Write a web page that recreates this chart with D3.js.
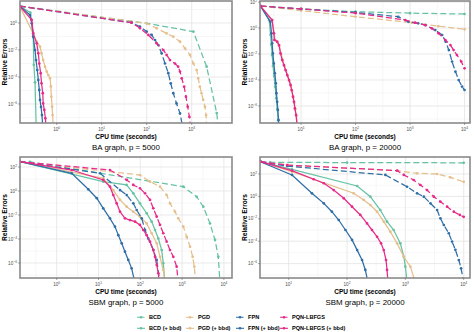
<!DOCTYPE html>
<html>
<head>
<script src="https://d3js.org/d3.v7.min.js"></script>
<style>
  body { margin: 0; background: #fff; }
  text { font-family: "Liberation Sans", Arial, sans-serif; }
</style>
</head>
<body>
<svg id="chart" width="474" height="332"></svg>
<script>

const methods = ["BCD", "PGD", "FPN", "PQN-LBFGS"];
const colors = ["#66c2a5", "#e5bf8c", "#2f6ea6", "#e7298a"];

// [CPU time (s), relative error]; plain name = without bbd (dashed), _bbd = with bbd (solid)

// BA graph, p = 5000
const ba5k_bcd = [[0.15,18],[100,0.95],[1090,0.23],[2150,5.8e-4],[3600,2.1e-7],[3900,2e-8]];
const ba5k_bcd_bbd = [[0.15,18],[0.26,5.8],[0.30,0.18],[0.31,8e-4],[0.33,4e-5],[0.35,2e-8]];
const ba5k_pgd = [[0.15,18],[100,0.95],[166,0.41],[277,0.17],[390,0.097],[550,0.041],[710,0.013],[915,4.3e-3],[1090,1e-3],[1290,3.3e-4],[1400,8e-5],[1520,1.9e-5],[1660,6.1e-6],[1800,2e-6],[1970,6.3e-7],[2090,1.5e-7],[2150,2e-8]];
const ba5k_pgd_bbd = [[0.15,18],[0.30,0.17],[0.36,0.041],[0.425,0.018],[0.46,5.7e-3],[0.50,1.8e-3],[0.55,5.8e-4],[0.60,2.5e-4],[0.65,1.4e-4],[0.71,8e-5],[0.74,2e-5],[0.76,3.5e-6],[0.79,6.3e-7],[0.81,1.5e-7],[0.84,2e-8]];
const ba5k_fpn = [[0.15,18],[46,1.05],[71,0.53],[100,0.23],[129,0.13],[153,0.055],[181,0.023],[215,5.7e-3],[255,1e-3],[302,1.9e-4],[342,3.4e-5],[390,6.3e-6],[460,1.1e-6],[550,2e-7],[630,2e-8]];
const ba5k_fpn_bbd = [[0.15,18],[0.255,3.9],[0.278,0.95],[0.30,0.097],[0.33,0.01],[0.347,1.8e-3],[0.37,3.3e-4],[0.39,6e-5],[0.41,1.1e-5],[0.425,2e-6],[0.448,6e-7],[0.47,1.5e-7],[0.49,2e-8]];
const ba5k_pqn = [[0.15,18],[46,1.05],[71,0.41],[109,0.13],[166,0.031],[234,0.01],[277,4.3e-3],[330,1.8e-3],[425,1e-3],[500,5.8e-4],[550,2.5e-4],[600,8e-5],[680,1.9e-5],[745,3.5e-6],[815,6.3e-7],[890,1.1e-7],[950,2e-8]];
const ba5k_pqn_bbd = [[0.15,18],[0.278,1.7],[0.30,0.17],[0.36,0.031],[0.39,5.7e-3],[0.41,1e-3],[0.44,1.9e-4],[0.46,3.4e-5],[0.49,6.3e-6],[0.50,1.1e-6],[0.53,3.6e-7],[0.56,8.7e-8],[0.58,2e-8]];

// BA graph, p = 20000
const ba20k_bcd = [[1.8,49],[10,30],[100,18],[1000,14],[10000,12]];
const ba20k_bcd_bbd = [[1.8,49],[2.6,4],[2.75,0.3],[2.85,0.05],[2.95,8e-3],[3.05,1.2e-3],[3.2,2e-4],[3.35,3e-5],[3.5,4e-6],[3.65,6e-7],[3.8,8e-8],[3.9,2e-8]];
const ba20k_pgd = [[1.8,49],[10,22],[100,7.4],[1070,2.6],[3300,1.4],[10000,0.8]];
const ba20k_pgd_bbd = [[1.8,49],[2.94,4.1],[3.2,0.4],[3.35,0.12],[3.7,0.08],[4.0,0.045],[4.3,0.01],[4.6,3.2e-3],[4.95,1.2e-3],[5.3,5e-4],[5.7,2e-4],[6.1,8e-5],[6.5,3.5e-5],[6.85,1.4e-5],[7.2,4.5e-6],[7.5,1.8e-6],[7.8,5.5e-7],[8.2,1.7e-7],[8.6,2e-8]];
const ba20k_fpn = [[1.8,49],[10,29],[100,16],[605,7.4],[935,3.0],[1410,2.3],[1900,1.7],[2900,0.7],[3880,0.29],[4500,0.089],[5150,0.02],[5900,2.6e-3],[6800,4.4e-4],[7800,1e-4],[9000,3.1e-5],[10000,1.7e-5]];
const ba20k_fpn_bbd = [[1.8,49],[2.73,3.0],[2.86,0.39],[2.94,0.066],[3.03,0.011],[3.16,1.9e-3],[3.3,3.3e-4],[3.44,5.6e-5],[3.53,9.6e-6],[3.64,2.1e-6],[3.75,4.9e-7],[3.85,8.4e-8],[3.96,2e-8]];
const ba20k_pqn = [[1.8,49],[10,30],[100,14],[815,4.1],[1230,2.6],[1900,1.7],[2500,0.95],[3330,0.39],[4450,0.12],[5500,0.049],[6300,0.02],[7250,8.4e-3],[8700,2.6e-3],[10000,7.9e-4]];
const ba20k_pqn_bbd = [[1.8,49],[2.94,4.1],[3.16,0.39],[3.24,0.12],[3.64,0.089],[3.92,0.049],[4.19,0.011],[4.5,3.5e-3],[4.84,1.4e-3],[5.18,5.9e-4],[5.57,2.4e-4],[6.0,1e-4],[6.4,4.2e-5],[6.7,1.7e-5],[7.1,5.2e-6],[7.4,2.1e-6],[7.7,6.6e-7],[8.1,2e-7],[8.5,2e-8]];

// SBM graph, p = 5000
const sbm5k_bcd = [[0.13,280],[0.23,270],[1070,2.3],[2235,0.33],[3215,0.049],[4650,2e-3],[6130,8.3e-5],[7350,3.3e-6],[8070,2e-8]];
const sbm5k_bcd_bbd = [[0.13,280],[13,6],[47,3.2],[68,0.64],[98,0.094],[142,0.014],[187,2.8e-3],[225,5.6e-4],[270,1.1e-4],[325,1.2e-5],[355,9.4e-7],[390,2e-8]];
const sbm5k_pgd = [[0.13,280],[98,21.5],[171,6],[296,2.3],[428,0.46],[514,0.094],[677,0.019],[811,5.3e-3],[1070,1.06e-3],[1290,1.5e-4],[1550,2.3e-5],[1790,3.3e-6],[1960,4.9e-7],[2115,2e-8]];
const sbm5k_pgd_bbd = [[0.13,280],[13,11.5],[22.6,1.2],[32.7,0.18],[47.3,0.049],[68,0.019],[98,7.2e-3],[142,2e-3],[187,3e-4],[247,4.4e-5],[296,3.3e-6],[355,2.6e-7],[390,2e-8]];
const sbm5k_fpn = [[0.13,280],[10.9,30],[32.7,1.2],[47.3,0.46],[68,0.094],[82,0.026],[108,5.3e-3],[130,5.6e-4],[155,1.1e-4],[205,1.2e-5],[247,1.8e-6],[296,2e-8]];
const sbm5k_fpn_bbd = [[0.13,280],[2.29,30],[5.7,1.39],[9.1,0.25],[13,0.036],[18.8,5.3e-3],[24.8,1.06e-3],[29.8,2.1e-4],[35.9,4.4e-5],[43,8.8e-6],[51.6,1.8e-6],[62,3.6e-7],[75,2e-8]];
const sbm5k_pqn = [[0.13,280],[18.8,56],[47.3,8.3],[68,3.2],[98,1.7],[130,0.64],[171,0.18],[205,0.036],[247,7.2e-3],[296,1.5e-3],[355,3e-4],[428,6e-5],[514,1.2e-5],[616,3.3e-6],[743,4.9e-7],[811,2e-8]];
const sbm5k_pqn_bbd = [[0.13,280],[2.3,56],[13,8.3],[18.8,2.3],[22.6,0.46],[27.2,0.094],[32.7,0.019],[43,5.3e-3],[56.6,3.8e-3],[75,2.8e-3],[98,1.5e-3],[118,5.6e-4],[142,2.1e-4],[171,6e-5],[205,1.2e-5],[225,3.3e-6],[247,6.8e-7],[270,1.4e-7],[285,2e-8]];

// SBM graph, p = 20000
const sbm20k_bcd = [[3.26,1250],[4.8,1100],[100,1050],[10000,1000]];
const sbm20k_bcd_bbd = [[3.26,1250],[11.4,263],[149,8.5],[251,0.94],[372,0.061],[485,5.5e-3],[631,1e-3],[820,6.4e-5],[940,4.1e-6],[1000,5.3e-7],[1070,2e-8]];
const sbm20k_pgd = [[3.26,1250],[9.4,630],[725,200],[1585,115],[3500,100],[5900,50],[10000,20]];
const sbm20k_pgd_bbd = [[3.26,1250],[11.4,160],[130,1.9],[193,0.48],[251,0.17],[327,0.043],[426,5.5e-3],[553,7.1e-4],[721,6.4e-5],[940,4.1e-6],[1220,5.3e-7],[1485,2e-8]];
const sbm20k_fpn = [[3.26,1250],[9.4,516],[454,82],[1070,7.3],[1585,1.9],[2070,0.94],[2690,0.24],[3500,0.061],[3980,0.011],[4560,2.8e-3],[5550,5.1e-4],[6320,9.2e-5],[7200,1.7e-5],[8240,2.1e-6],[9020,3.8e-7],[10000,2e-8]];
const sbm20k_fpn_bbd = [[3.26,1250],[11.4,82],[25,1.9],[40,0.24],[55,0.043],[72,7.8e-3],[94,1e-3],[122,1.3e-4],[149,1.6e-5],[181,2.1e-6],[206,2.7e-7],[229,2e-8]];
const sbm20k_pqn = [[3.26,1250],[9.4,630],[725,200],[940,82],[1390,29],[1810,10.4],[2350,3.7],[3070,0.94],[3980,0.34],[5190,0.12],[6760,0.043],[8570,0.022],[10000,0.015]];
const sbm20k_pqn_bbd = [[3.26,1250],[11.4,197],[26.8,34],[40,15],[59,3.7],[88,0.68],[122,0.12],[169,0.022],[220,3.9e-3],[268,1e-3],[327,2.5e-4],[383,6.4e-5],[426,1.6e-5],[466,2.1e-6],[485,2.7e-7],[505,2e-8]];

// tick exponents (labels 10^k)
const ba5kXTicks = [0, 1, 2, 3];
const ba5kYTicks = [0, -2, -4, -6];
const ba20kXTicks = [1, 2, 3, 4];
const ba20kYTicks = [2, 0, -2, -4, -6];
const sbm5kXTicks = [0, 1, 2, 3, 4];
const sbm5kYTicks = [2, 0, -2, -4, -6];
const sbm20kXTicks = [1, 2, 3, 4];
const sbm20kYTicks = [2, 0, -2, -4, -6];

const titles = ["BA graph, p = 5000", "BA graph, p = 20000", "SBM graph, p = 5000", "SBM graph, p = 20000"];

const panels = [
  { title: titles[0], left: 20, right: 232, top: 1, bottom: 123, xExp: [-0.816, 3.896], yExp: [-7.41, 1.63],
    xTicks: ba5kXTicks, yTicks: ba5kYTicks,
    series: [ba5k_bcd, ba5k_bcd_bbd, ba5k_pgd, ba5k_pgd_bbd, ba5k_fpn, ba5k_fpn_bbd, ba5k_pqn, ba5k_pqn_bbd] },
  { title: titles[1], left: 260, right: 470, top: 1, bottom: 123, xExp: [0.246, 4.10], yExp: [-7.31, 2.08],
    xTicks: ba20kXTicks, yTicks: ba20kYTicks,
    series: [ba20k_bcd, ba20k_bcd_bbd, ba20k_pgd, ba20k_pgd_bbd, ba20k_fpn, ba20k_fpn_bbd, ba20k_pqn, ba20k_pqn_bbd] },
  { title: titles[2], left: 20, right: 232, top: 157, bottom: 278, xExp: [-0.878, 4.194], yExp: [-7.25, 2.833],
    xTicks: sbm5kXTicks, yTicks: sbm5kYTicks,
    series: [sbm5k_bcd, sbm5k_bcd_bbd, sbm5k_pgd, sbm5k_pgd_bbd, sbm5k_fpn, sbm5k_fpn_bbd, sbm5k_pqn, sbm5k_pqn_bbd] },
  { title: titles[3], left: 260, right: 470, top: 157, bottom: 278, xExp: [0.508, 4.108], yExp: [-7.286, 3.518],
    xTicks: sbm20kXTicks, yTicks: sbm20kYTicks,
    series: [sbm20k_bcd, sbm20k_bcd_bbd, sbm20k_pgd, sbm20k_pgd_bbd, sbm20k_fpn, sbm20k_fpn_bbd, sbm20k_pqn, sbm20k_pqn_bbd] }
];

const svg = d3.select("#chart");

function powLabel(sel, k, size) {
  sel.append("tspan").text("10");
  sel.append("tspan").attr("dy", -size * 0.45).attr("font-size", size * 0.72)
    .text(k < 0 ? "\u2212" + (-k) : String(k));
}

panels.forEach((p, pi) => {
  const x = d3.scaleLog().domain(p.xExp.map(e => Math.pow(10, e))).range([p.left, p.right]);
  const y = d3.scaleLog().domain(p.yExp.map(e => Math.pow(10, e))).range([p.bottom, p.top]);
  const g = svg.append("g");

  // grid
  const grid = g.append("g");
  for (let k = Math.floor(p.xExp[0]); k <= Math.ceil(p.xExp[1]); k++) {
    [k, k + 0.5].forEach((e, j) => {
      if (e <= p.xExp[0] || e >= p.xExp[1]) return;
      const px = x(Math.pow(10, e));
      grid.append("line").attr("x1", px).attr("x2", px).attr("y1", p.top).attr("y2", p.bottom)
        .attr("stroke", j ? "#efefef" : "#e0e0e0").attr("stroke-width", j ? 0.5 : 0.7);
    });
  }
  for (let k = Math.floor(p.yExp[0]); k <= Math.ceil(p.yExp[1]); k++) {
    if (k <= p.yExp[0] || k >= p.yExp[1]) continue;
    const major = k % 2 === 0;
    const py = y(Math.pow(10, k));
    grid.append("line").attr("x1", p.left).attr("x2", p.right).attr("y1", py).attr("y2", py)
      .attr("stroke", major ? "#e0e0e0" : "#efefef").attr("stroke-width", major ? 0.7 : 0.5);
  }

  // clip
  const clipId = "clip" + pi;
  svg.append("clipPath").attr("id", clipId).append("rect")
    .attr("x", p.left).attr("y", p.top).attr("width", p.right - p.left).attr("height", p.bottom - p.top);

  const line = d3.line().x(d => x(d[0])).y(d => y(d[1]));
  const plot = g.append("g").attr("clip-path", "url(#" + clipId + ")");

  p.series.forEach((s, si) => {
    const col = colors[si >> 1];
    const dashed = si % 2 === 0;
    plot.append("path").datum(s).attr("d", line)
      .attr("fill", "none").attr("stroke", col).attr("stroke-width", 1.25)
      .attr("stroke-dasharray", dashed ? "6,3" : null);
    plot.selectAll(null).data(s).join("circle")
      .attr("cx", d => x(d[0])).attr("cy", d => y(d[1])).attr("r", 1.35).attr("fill", col);
  });

  // border
  g.append("rect").attr("x", p.left).attr("y", p.top).attr("width", p.right - p.left).attr("height", p.bottom - p.top)
    .attr("fill", "none").attr("stroke", "#8a8a8a").attr("stroke-width", 1.6);

  // x ticks
  p.xTicks.forEach(k => {
    const px = x(Math.pow(10, k));
    g.append("line").attr("x1", px).attr("x2", px).attr("y1", p.bottom).attr("y2", p.bottom + 2)
      .attr("stroke", "#555").attr("stroke-width", 0.5);
    const t = g.append("text").attr("x", px).attr("y", p.bottom + 8.3).attr("text-anchor", "middle")
      .attr("font-size", 4.6).attr("fill", "#4d4d4d");
    powLabel(t, k, 4.6);
  });
  // y ticks
  p.yTicks.forEach(k => {
    const py = y(Math.pow(10, k));
    if (py < p.top - 1) return;
    g.append("line").attr("x1", p.left - 2).attr("x2", p.left).attr("y1", py).attr("y2", py)
      .attr("stroke", "#555").attr("stroke-width", 0.5);
    const t = g.append("text").attr("x", p.left - 3).attr("y", py + 1.6).attr("text-anchor", "end")
      .attr("font-size", 4.6).attr("fill", "#4d4d4d");
    powLabel(t, k, 4.6);
  });

  const cx = (p.left + p.right) / 2;
  g.append("text").attr("x", cx).attr("y", p.bottom + 16.3).attr("text-anchor", "middle")
    .attr("font-size", 6.5).attr("font-weight", "bold").text("CPU time (seconds)");
  g.append("text").attr("x", cx).attr("y", p.bottom + 26.6).attr("text-anchor", "middle")
    .attr("font-size", 7.9).text(p.title);
  g.append("text").attr("transform", "translate(" + (p.left - 13) + "," + ((p.top + p.bottom) / 2) + ") rotate(-90)")
    .attr("text-anchor", "middle").attr("font-size", 6.6).attr("font-weight", "bold").text("Relative Errors");
});

// legend
const legX = [141, 190, 240, 284];
const legY = [317.3, 328.3];
const leg = svg.append("g");
methods.forEach((m, i) => {
  [0, 1].forEach(r => {
    const lx = legX[i], ly = legY[r];
    leg.append("line").attr("x1", lx - 4).attr("x2", lx + 4).attr("y1", ly).attr("y2", ly)
      .attr("stroke", colors[i]).attr("stroke-width", 1.1)
      .attr("stroke-dasharray", r === 0 ? "3,1.5" : null);
    leg.append("circle").attr("cx", lx).attr("cy", ly).attr("r", 1.3).attr("fill", colors[i]);
    leg.append("text").attr("x", lx + 8).attr("y", ly + 2).attr("font-size", 5.6).attr("font-weight", "bold")
      .text(r === 0 ? m : m + " (+ bbd)");
  });
});

</script>
</body>
</html>
